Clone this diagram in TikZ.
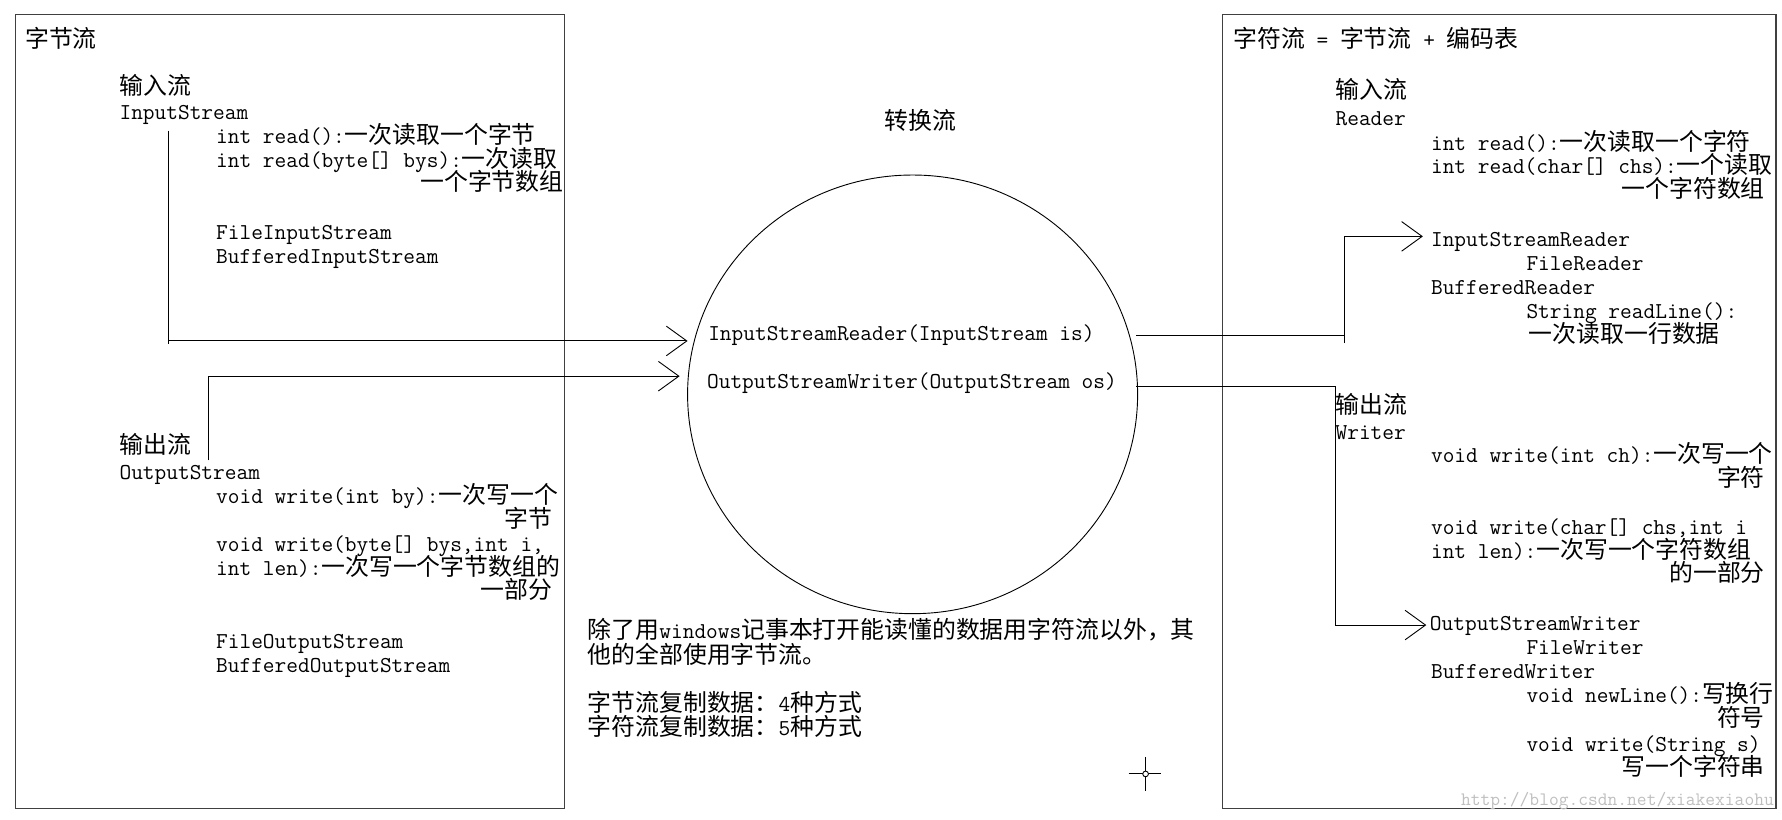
\documentclass[tikz,border=0pt]{standalone}
\usepackage{fontspec}
\newfontfamily\cjkfont{Noto Sans CJK SC}[Scale=1.05]
\usetikzlibrary{arrows.meta,shapes.geometric}
\newcommand\zh[1]{{\cjkfont #1}}
\begin{document}
\begin{tikzpicture}[x=1pt,y=-1pt,
  txt/.style={inner sep=0pt, anchor=west, text height=17pt, text depth=3pt, font=\fontsize{20}{21}\selectfont\ttfamily},
  rtxt/.style={txt, anchor=east},
  wm/.style={inner sep=0pt, anchor=east, text=black!25, font=\fontsize{16.7}{18}\selectfont\ttfamily},
  frame/.style={draw=black!75, line width=1.2pt, inner sep=0pt, anchor=north west},
  conn/.style={draw=black, line width=0.8pt},
  arr/.style={-{Straight Barb[length=18pt,width=26pt]}}]
\useasboundingbox (0,0) rectangle (1568,721.5);
\fill[white] (0,0) rectangle (1568,721.5);

% boxes
\node[frame, minimum width=483pt, minimum height=699pt] (lbox) at (13,12) {};
\node[frame, minimum width=487pt, minimum height=699pt] (rbox) at (1075,12) {};
\node[draw=black, line width=0.8pt, ellipse, minimum width=396pt, minimum height=386pt, inner sep=0pt] (conv) at (803,347) {};

% left texts
\node[txt] (lt) at (22,35) {\zh{字节流}};
\node[txt] (lin) at (105,76) {\zh{输入流}};
\node[txt] (lis) at (105,98) {InputStream};
\node[txt] (lr1) at (190,119) {int read():\zh{一次读取一个字节}};
\node[txt] (lr2) at (190,140) {int read(byte[] bys):\zh{一次读取}};
\node[rtxt] (lr3) at (496,161) {\zh{一个字节数组}};
\node[txt] (lfis) at (190,204) {FileInputStream};
\node[txt] (lbis) at (190,225) {BufferedInputStream};
\node[txt] (lout) at (105,392) {\zh{输出流}};
\node[txt] (los) at (105,415) {OutputStream};
\node[txt] (lw1) at (190,436) {void write(int by):\zh{一次写一个}};
\node[rtxt] (lw2) at (486,457) {\zh{字节}};
\node[txt] (lw3) at (190,478) {void write(byte[] bys,int i,};
\node[txt] (lw4) at (190,499) {int len):\zh{一次写一个字节数组的}};
\node[rtxt] (lw5) at (486,520) {\zh{一部分}};
\node[txt] (lfos) at (190,564) {FileOutputStream};
\node[txt] (lbos) at (190,585) {BufferedOutputStream};

% middle texts
\node[txt, anchor=center] (convT) at (810,107) {\zh{转换流}};
\node[txt] (isr) at (623,293) {InputStreamReader(InputStream is)};
\node[txt] (osw) at (622,335) {OutputStreamWriter(OutputStream os)};
\node[txt] (n1) at (517,555) {\zh{除了用}windows\zh{记事本打开能读懂的数据用字符流以外，其}};
\node[txt] (n2) at (517,577) {\zh{他的全部使用字节流。}};
\node[txt] (n3) at (517,619) {\zh{字节流复制数据：}4\zh{种方式}};
\node[txt] (n4) at (517,640) {\zh{字符流复制数据：}5\zh{种方式}};

% right texts
\node[txt] (rt) at (1085,35) {\zh{字符流} = \zh{字节流} + \zh{编码表}};
\node[txt] (rin) at (1175,80) {\zh{输入流}};
\node[txt] (rrd) at (1175,103) {Reader};
\node[txt] (rr1) at (1259,125) {int read():\zh{一次读取一个字符}};
\node[txt] (rr2) at (1259,146) {int read(char[] chs):\zh{一个读取}};
\node[rtxt] (rr3) at (1553,167) {\zh{一个字符数组}};
\node[txt] (risr) at (1259,210) {InputStreamReader};
\node[txt] (rfr) at (1343,231) {FileReader};
\node[txt] (rbr) at (1259,252) {BufferedReader};
\node[txt] (rrl) at (1343,273) {String readLine():};
\node[txt] (rrl2) at (1345,294) {\zh{一次读取一行数据}};
\node[txt] (rout) at (1175,357) {\zh{输出流}};
\node[txt] (rwr) at (1175,380) {Writer};
\node[txt] (rw1) at (1259,400) {void write(int ch):\zh{一次写一个}};
\node[rtxt] (rw2) at (1553,421) {\zh{字符}};
\node[txt] (rw3) at (1259,463) {void write(char[] chs,int i};
\node[txt] (rw4) at (1259,484) {int len):\zh{一次写一个字符数组}};
\node[rtxt] (rw5) at (1553,505) {\zh{的一部分}};
\node[txt] (rosw) at (1258,548) {OutputStreamWriter};
\node[txt] (rfw) at (1343,569) {FileWriter};
\node[txt] (rbw) at (1259,590) {BufferedWriter};
\node[txt] (rnl) at (1343,611) {void newLine():\zh{写换行}};
\node[rtxt] (rnl2) at (1553,632) {\zh{符号}};
\node[txt] (rws) at (1343,654) {void write(String s)};
\node[rtxt] (rws2) at (1553,675) {\zh{写一个字符串}};
\node[wm] (wm) at (1561,705) {http://blog.csdn.net/xiakexiaohu};

% connectors
\coordinate (aTop) at (148,115);
\coordinate (aBot) at (148,303);
\coordinate (aCorner) at (148,300);
\coordinate (aTip) at (605,300);
\draw[conn] (aTop) -- (aBot);
\draw[conn,arr] (aCorner) -- (aTip);

\coordinate (bBot) at (183,405);
\coordinate (bTip) at (598,331);
\draw[conn,arr] (bBot) |- (bTip);

\coordinate (cS) at (1000,295);
\coordinate (cC) at (1183,295);
\coordinate (cB) at (1183,302);
\coordinate (cT) at (1183,208);
\coordinate (cTip) at (1252,208);
\draw[conn] (cS) -- (cC);
\draw[conn] (cB) -- (cT);
\draw[conn,arr] (cT) -- (cTip);

\coordinate (dS) at (1000,340);
\coordinate (dC) at (1175,340);
\coordinate (dB) at (1175,550);
\coordinate (dTip) at (1255,550);
\draw[conn,arr] (dS) -- (dC) -- (dB) -- (dTip);

% crosshair
\coordinate (cx) at (1008,681);
\draw[conn] (993,681) -- (1022,681);
\draw[conn] (1008,666) -- (1008,696);
\draw[conn, fill=white] (cx) circle (2.5pt);
\end{tikzpicture}
\end{document}
